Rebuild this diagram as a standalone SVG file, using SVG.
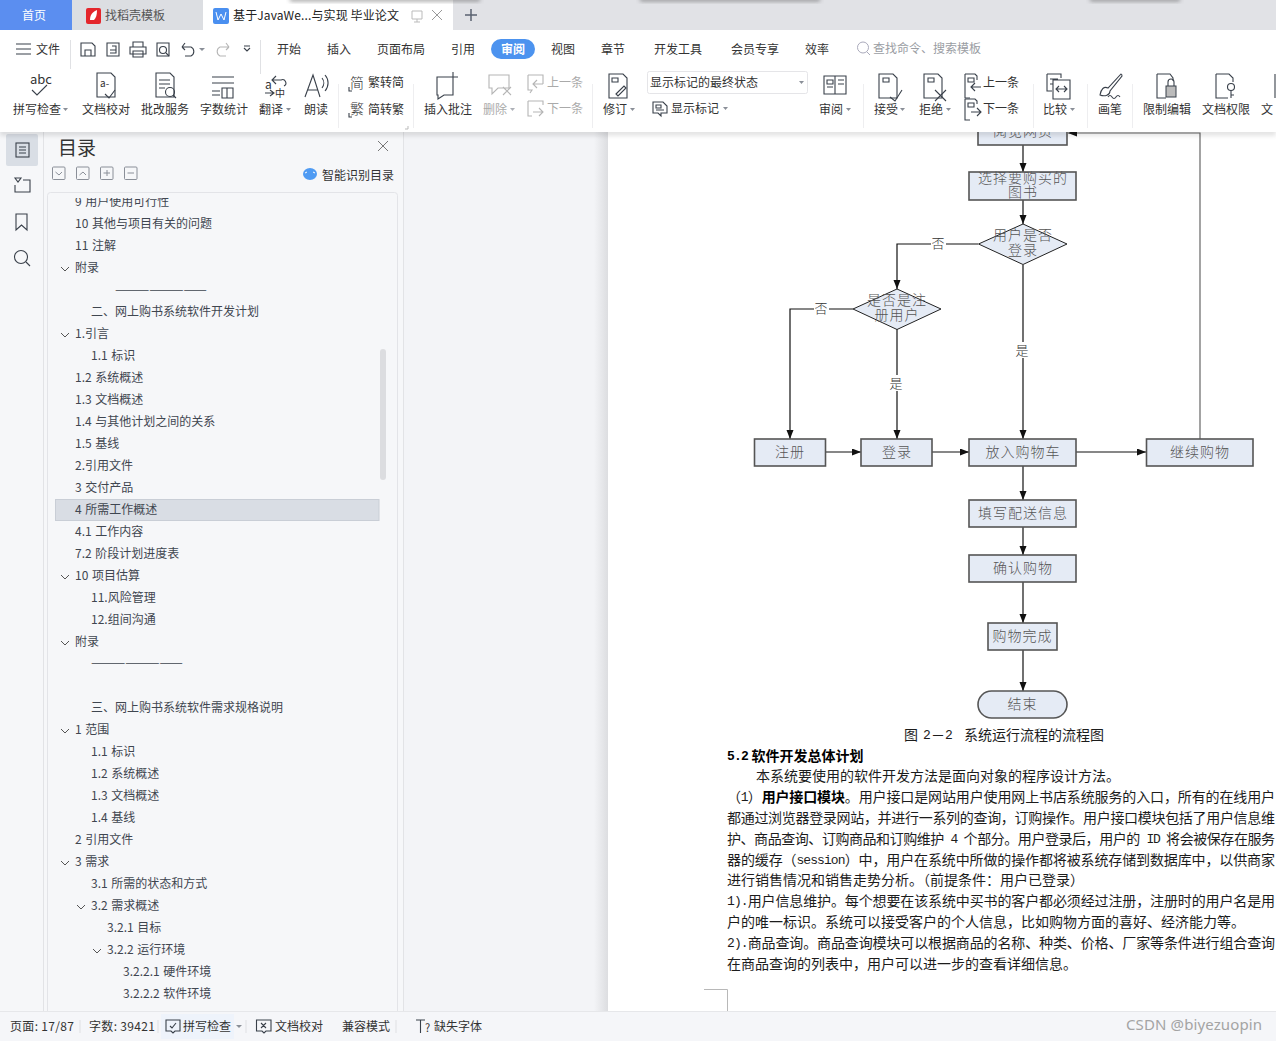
<svg xmlns="http://www.w3.org/2000/svg" width="1276" height="1041" viewBox="0 0 1276 1041">
<style>
text{font-family:"Noto Sans CJK SC","Noto Sans",sans-serif;font-size:12px;fill:#333;dominant-baseline:central;transform:translateY(-1.5px)}
.g{fill:#aaa}
.toc{fill:#3f4650;word-spacing:1px}
.d{font-family:"Liberation Serif","Noto Sans CJK SC",serif;font-size:14px;fill:#1c1c1c;transform:none}
.m{font-family:"Liberation Mono",monospace;font-size:13px;letter-spacing:-.8px}
.b{font-weight:700;fill:#000}
.n{fill:#e5ebf5;stroke:#555;stroke-width:1.600}
.dm{fill:#e5ebf5;stroke:#222;stroke-width:1}
.nt{font-size:14px;fill:#555;text-anchor:middle;font-weight:300;letter-spacing:1px}
.c{fill:none;stroke:#111;stroke-width:1.200}
.l{font-size:13px;fill:#333;text-anchor:middle;font-weight:300;transform:translateY(-1px)}
.i{fill:none;stroke:#39404a;stroke-width:1.100}
.ig{fill:none;stroke:#b5b5b5;stroke-width:1.100}
.a{fill:#8a8f98}
</style>
<defs>
<marker id="ar" markerUnits="userSpaceOnUse" markerWidth="10" markerHeight="8" refX="9" refY="3.500" orient="auto"><path d="M0 0L9 3.500L0 7z" fill="#111"/></marker>
<filter id="bl" x="-20%" y="-100%" width="140%" height="300%"><feGaussianBlur stdDeviation="2"/></filter>
<linearGradient id="sh"><stop offset="0" stop-color="#dcdde0" stop-opacity="0"/><stop offset="1" stop-color="#dcdde0"/></linearGradient>
<path id="doc" d="M-9-12H5L9-8V12H-9z"/>
</defs>

<!-- backgrounds -->
<rect width="1276" height="1041" fill="#f3f4f7"/>
<rect x="594" y="130" width="14" height="882" fill="url(#sh)"/>
<rect x="608" y="130" width="668" height="882" fill="#fff"/>

<!-- flow chart -->
<g id="connectors">
<path class="c" d="M1023 145V172" marker-end="url(#ar)"/>
<path class="c" d="M1023 200V224" marker-end="url(#ar)"/>
<path class="c" d="M978 244H897V289" marker-end="url(#ar)"/>
<path class="c" d="M1023 265V439" marker-end="url(#ar)"/>
<path class="c" d="M853 309H790V439" marker-end="url(#ar)"/>
<path class="c" d="M897 329V439" marker-end="url(#ar)"/>
<path class="c" d="M826 452H861" marker-end="url(#ar)"/>
<path class="c" d="M932 452H969" marker-end="url(#ar)"/>
<path class="c" d="M1076 452H1146" marker-end="url(#ar)"/>
<path class="c" d="M1023 466V500" marker-end="url(#ar)"/>
<path class="c" d="M1023 527V555" marker-end="url(#ar)"/>
<path class="c" d="M1023 582V623" marker-end="url(#ar)"/>
<path class="c" d="M1023 650V691" marker-end="url(#ar)"/>
<path d="M1200 439V133H1068" fill="none" stroke="#666" stroke-width="1.200" marker-end="url(#ar)"/>
<rect x="931" y="236" width="15" height="16" fill="#fff"/><text class="l" x="938" y="243">否</text>
<rect x="814" y="301" width="15" height="16" fill="#fff"/><text class="l" x="821" y="308">否</text>
<rect x="1015" y="342" width="15" height="16" fill="#fff"/><text class="l" x="1022" y="350">是</text>
<rect x="889" y="375" width="15" height="16" fill="#fff"/><text class="l" x="896" y="383">是</text>
</g>
<g id="n-browse"><rect class="n" x="978" y="117" width="89" height="28"/><text class="nt" x="1023" y="131">阅览网页</text></g>
<g id="n-select"><rect class="n" x="969" y="172" width="107" height="28"/><text class="nt" x="1023" y="178"><tspan x="1023">选择要购买的</tspan><tspan x="1023" dy="14">图书</tspan></text></g>
<g id="n-logged"><path class="dm" d="M978.500 244L1023 224L1067 244L1023 264.500z"/><text class="nt" x="1023" y="235"><tspan x="1023">用户是否</tspan><tspan x="1023" dy="15">登录</tspan></text></g>
<g id="n-registered"><path class="dm" d="M853 309L897 289L941 309L897 329.500z"/><text class="nt" x="897" y="300"><tspan x="897">是否是注</tspan><tspan x="897" dy="15">册用户</tspan></text></g>
<g id="n-register"><rect class="n" x="754.500" y="439" width="71" height="27"/><text class="nt" x="790" y="452">注册</text></g>
<g id="n-login"><rect class="n" x="861" y="439" width="71" height="27"/><text class="nt" x="897" y="452">登录</text></g>
<g id="n-cart"><rect class="n" x="969" y="439" width="107" height="27"/><text class="nt" x="1023" y="452">放入购物车</text></g>
<g id="n-continue"><rect class="n" x="1146.500" y="439" width="106.500" height="27"/><text class="nt" x="1200" y="452">继续购物</text></g>
<g id="n-address"><rect class="n" x="969" y="500" width="107" height="27"/><text class="nt" x="1023" y="513">填写配送信息</text></g>
<g id="n-confirm"><rect class="n" x="969" y="555" width="107" height="27"/><text class="nt" x="1023" y="568">确认购物</text></g>
<g id="n-done"><rect class="n" x="988" y="623" width="69" height="27"/><text class="nt" x="1022.500" y="636">购物完成</text></g>
<g id="n-end"><rect class="n" x="978" y="691" width="89" height="27" rx="13.500"/><text class="nt" x="1022.500" y="704">结束</text></g>

<!-- document text -->
<g id="doc-text">
<text class="d" x="904" y="735">图<tspan class="m" x="923">2</tspan><tspan x="931">－</tspan><tspan class="m" x="945">2</tspan><tspan x="964">系统运行流程的流程图</tspan></text>
<text class="d b" x="727" y="756"><tspan class="m">5.2</tspan><tspan x="751.500">软件开发总体计划</tspan></text>
<text class="d" x="756" y="776">本系统要使用的软件开发方法是面向对象的程序设计方法。</text>
<text class="d" x="727" y="797" textLength="548">（<tspan class="m">1</tspan>）<tspan class="b">用户接口模块</tspan>。用户接口是网站用户使用网上书店系统服务的入口，所有的在线用户</text>
<text class="d" x="727" y="818" textLength="548">都通过浏览器登录网站，并进行一系列的查询，订购操作。用户接口模块包括了用户信息维</text>
<text class="d" x="727" y="839" textLength="548">护、商品查询、订购商品和订购维护<tspan class="m"> 4 </tspan>个部分。用户登录后，用户的<tspan class="m"> ID </tspan>将会被保存在服务</text>
<text class="d" x="727" y="860" textLength="548">器的缓存（<tspan class="m">session</tspan>）中，用户在系统中所做的操作都将被系统存储到数据库中，以供商家</text>
<text class="d" x="727" y="880">进行销售情况和销售走势分析。（前提条件：用户已登录）</text>
<text class="d" x="727" y="901" textLength="548"><tspan class="m">1).</tspan>用户信息维护。每个想要在该系统中买书的客户都必须经过注册，注册时的用户名是用</text>
<text class="d" x="727" y="922"><tspan>户的唯一标识。系统可以接受客户的个人信息，比如购物方面的喜好、经济能力等。</tspan></text>
<text class="d" x="727" y="943" textLength="548"><tspan class="m">2).</tspan>商品查询。商品查询模块可以根据商品的名称、种类、价格、厂家等条件进行组合查询</text>
<text class="d" x="727" y="964">在商品查询的列表中，用户可以进一步的查看详细信息。</text>
<path d="M704 989.500H727.500V1012" fill="none" stroke="#b8b8b8"/>
</g>

<!-- left rail and panel -->
<rect x="0" y="130" width="403" height="881" fill="#f6f7f9"/>
<path d="M43.500 130V1011M403.500 130V1011" stroke="#e2e3e6"/>
<rect x="47.500" y="192.500" width="350" height="830" rx="3" fill="#f6f7f9" stroke="#e3e4e8"/>
<g id="rail">
<rect x="6" y="134" width="32" height="32" rx="2" fill="#d9dee5"/>
<rect class="i" x="16" y="143" width="13" height="14"/><path class="i" d="M19 147H26M19 150H26M19 153H26"/>
<path class="i" d="M15 178H21L18 182zM23 180H30V192H15V185"/>
<path class="i" d="M16 214H27V230L21.500 225L16 230z"/>
<circle class="i" cx="21" cy="257" r="6.500"/><path class="i" d="M26 262L30 266"/>
</g>
<g id="toc-head">
<text x="58" y="148" style="font-size:19px">目录</text>
<path d="M378 141L388 151M388 141L378 151" stroke="#777" fill="none"/>
<g fill="none" stroke="#8a8f98"><rect x="52.500" y="167" width="12.500" height="12.500" rx="1"/><rect x="76.500" y="167" width="12.500" height="12.500" rx="1"/><rect x="100.500" y="167" width="12.500" height="12.500" rx="1"/><rect x="124.500" y="167" width="12.500" height="12.500" rx="1"/>
<path d="M55.500 172L59 175L62 172M79.500 175L83 172L86 175M103.500 173H110M107 170V176M127.500 173H134"/></g>
<ellipse cx="310" cy="174" rx="7" ry="6" fill="#4f9bf3"/><path d="M305 173L307 172M313 172L315 173" stroke="#fff" fill="none"/>
<text x="322" y="175.500">智能识别目录</text>
</g>
<g id="toc">
<rect x="55.500" y="499.500" width="323.500" height="21" fill="#d9dde4" stroke="#c9ced6"/>
<rect x="380" y="349" width="6" height="131" rx="3" fill="#dcdde0"/>
<g>
<text class="toc" x="75" y="224">10 其他与项目有关的问题</text>
<text class="toc" x="75" y="246">11 注解</text>
<text class="toc" x="75" y="268">附录</text>
<text class="toc" x="115" y="290" textLength="92" lengthAdjust="spacingAndGlyphs">————————</text>
<text class="toc" x="91" y="312">二、网上购书系统软件开发计划</text>
<text class="toc" x="75" y="334">1.引言</text>
<text class="toc" x="91" y="356">1.1 标识</text>
<text class="toc" x="75" y="378">1.2 系统概述</text>
<text class="toc" x="75" y="400">1.3 文档概述</text>
<text class="toc" x="75" y="422">1.4 与其他计划之间的关系</text>
<text class="toc" x="75" y="444">1.5 基线</text>
<text class="toc" x="75" y="466">2.引用文件</text>
<text class="toc" x="75" y="488">3 交付产品</text>
<text class="toc" x="75" y="510">4 所需工作概述</text>
<text class="toc" x="75" y="532">4.1 工作内容</text>
<text class="toc" x="75" y="554">7.2 阶段计划进度表</text>
<text class="toc" x="75" y="576">10 项目估算</text>
<text class="toc" x="91" y="598">11.风险管理</text>
<text class="toc" x="91" y="620">12.组间沟通</text>
<text class="toc" x="75" y="642">附录</text>
<text class="toc" x="91" y="663" textLength="92" lengthAdjust="spacingAndGlyphs">————————</text>
<text class="toc" x="91" y="708">三、网上购书系统软件需求规格说明</text>
<text class="toc" x="75" y="730">1 范围</text>
<text class="toc" x="91" y="752">1.1 标识</text>
<text class="toc" x="91" y="774">1.2 系统概述</text>
<text class="toc" x="91" y="796">1.3 文档概述</text>
<text class="toc" x="91" y="818">1.4 基线</text>
<text class="toc" x="75" y="840">2 引用文件</text>
<text class="toc" x="75" y="862">3 需求</text>
<text class="toc" x="91" y="884">3.1 所需的状态和方式</text>
<text class="toc" x="91" y="906">3.2 需求概述</text>
<text class="toc" x="107" y="928">3.2.1 目标</text>
<text class="toc" x="107" y="950">3.2.2 运行环境</text>
<text class="toc" x="123" y="972">3.2.2.1 硬件环境</text>
<text class="toc" x="123" y="994">3.2.2.2 软件环境</text>
</g>
<path fill="none" stroke="#555" d="M61 267L65 271L69 267M61 333L65 337L69 333M61 575L65 579L69 575M61 641L65 645L69 641M61 729L65 733L69 729M61 861L65 865L69 861M77 905L81 909L85 905M93 949L97 953L101 949"/>
<svg x="47" y="198" width="350" height="10" viewBox="47 198 350 10" overflow="hidden"><text class="toc" x="75" y="202">9 用户使用可行性</text></svg>
</g>

<!-- status bar -->
<g id="status">
<rect y="1011" width="1276" height="30" fill="#f5f6f9"/>
<path d="M0 1011.500H1276" stroke="#e6e7ea"/>
<rect x="161" y="1014" width="73" height="25" fill="#eef3fb"/>
<text x="10" y="1026.500" textLength="64">页面: 17/87</text>
<text x="89" y="1026.500" textLength="66">字数: 39421</text>
<path class="i" d="M166 1020H180V1031H175L173 1033L171 1031H166zM170 1026L172 1028L176 1023"/>
<text x="183" y="1026.500">拼写检查</text>
<path class="a" d="M236 1025H242L239 1028z"/>
<path class="i" d="M256.500 1020H271V1031H266L264 1033L262 1031H256.500zM261 1023L266 1028M266 1023L261 1028"/>
<text x="275" y="1026.500">文档校对</text>
<text x="342" y="1026.500">兼容模式</text>
<path class="i" d="M416 1020H425M420.500 1020V1033"/>
<text x="425" y="1028" style="font-size:11px">?</text>
<text x="434" y="1026.500">缺失字体</text>
<path d="M80 1020V1033M158 1020V1033M246 1020V1033M396 1020V1033" stroke="#dfe0e3"/>
<text x="1126" y="1025" textLength="136" style="font-family:'Noto Sans',sans-serif;font-size:15px;fill:#a4a4a4">CSDN @biyezuopin</text>
</g>

<!-- ribbon -->
<g id="ribbon">
<rect y="125" width="1276" height="11" fill="#000" opacity=".1" filter="url(#bl)"/>
<rect y="30" width="1276" height="102" fill="#fff"/>
<path class="i" d="M16 44H31M16 49H31M16 54H31"/>
<text x="36" y="49.500">文件</text>
<path d="M70.500 40V69M260.500 40V74" stroke="#e0e1e4"/>
<path class="i" d="M81 43H92L95 46V56H81zM85 56V50H91V56"/>
<path class="i" d="M107 43H119V56H107zM110 50H116V46H112M116 50V53H110"/>
<path class="i" d="M133 42H143V47H133zM130 47H146V54H130zM133 51H143V57H133z"/>
<path class="i" d="M157 43H169V56H157z"/><circle class="i" cx="163" cy="50" r="3.500"/><path class="i" d="M166 53L169 56"/>
<path class="i" d="M182 47H191A5 5 0 0 1 191 56H185M182 47L185 43M182 47L185 50"/>
<path class="a" d="M199 48H205L202 51z"/>
<path class="ig" d="M229 47H220A5 5 0 0 0 220 56H226M229 47L226 43M229 47L226 50"/>
<path class="i" d="M244 48L247 51L250 48M244 46H250"/>
<text x="277" y="50">开始</text><text x="327" y="50">插入</text><text x="377" y="50">页面布局</text><text x="451" y="50">引用</text>
<rect x="491" y="39" width="44" height="20" rx="10" fill="#4c93ef"/>
<text x="501" y="50" style="fill:#fff;font-weight:700">审阅</text>
<text x="551" y="50">视图</text><text x="601" y="50">章节</text><text x="654" y="50">开发工具</text><text x="731" y="50">会员专享</text><text x="805" y="50">效率</text>
<circle cx="863" cy="47.500" r="5.500" fill="none" stroke="#aab"/><path d="M867 52L870 55" stroke="#aab"/>
<text x="873" y="49" style="fill:#9a9da3">查找命令、搜索模板</text>

<path d="M338.500 84V128M413.500 84V128M592.500 84V128M863.500 84V128M1033.500 84V128M1087.500 84V128M1132.500 84V128" stroke="#eeeef0"/>

<text x="30" y="80" style="font-size:13px">abc</text><path class="i" d="M32 90L37 95L47 85"/>
<text x="13" y="110">拼写检查</text><path class="a" d="M63 108H68L65.500 111z"/>
<use href="#doc" class="i" x="106" y="85"/><text x="100" y="84" style="font-size:10px">a-</text><path class="i" d="M105 94L109 98L115 90"/>
<text x="82" y="110">文档校对</text>
<use href="#doc" class="i" x="165" y="85"/><path class="i" d="M159 80H170M159 84H170M159 88H165"/><circle class="i" cx="170" cy="92" r="4.500"/><path class="i" d="M173 95L176 98"/>
<text x="141" y="110">批改服务</text>
<path class="i" d="M212 77H234M212 83H234M212 91H220M212 95H220M222 88H227V98H222zM227 88H233V98H227z"/>
<text x="200" y="110">字数统计</text>
<text x="265" y="85" style="font-size:12px">a</text><path class="i" d="M276 76L272 80L276 84M272 80H281A3 3 0 0 1 284 86M265 93H273M270 90L274 93L270 96"/>
<text x="275" y="94" style="font-size:10px">中</text>
<text x="259" y="110">翻译</text><path class="a" d="M286 108H291L288.500 111z"/>
<path class="i" d="M305 97L313 75L320 97M308 90H318M322 78A8 8 0 0 1 322 88M325 75A12 12 0 0 1 325 91"/>
<text x="304" y="110">朗读</text>
<text x="350" y="83" style="font-size:14px;font-weight:300">简</text><text x="368" y="83">繁转简</text>
<text x="350" y="109" style="font-size:14px;font-weight:300">繁</text><text x="368" y="110">简转繁</text>
<path d="M349 87V91H352M349 113V117H352" class="i"/>
<path d="M405 129H408V126" stroke="#bbb" fill="none"/>

<path class="i" d="M438 79H454V97H445L439 101V97H438zM454 74V84M449 79H459" transform="translate(-1,-2)"/>
<text x="424" y="110">插入批注</text>
<path class="ig" d="M489 75H509V88L498 88L492 94V88H489zM503 87L511 95M511 87L503 95"/>
<text x="483" y="110" class="g">删除</text><path class="a" d="M510 108H515L512.500 111z" opacity=".7"/>
<path class="ig" d="M528 75H543V84M543 84H533M537 80L533 84L537 88M528 75V90H532L530 93"/>
<text x="547" y="83" class="g">上一条</text>
<path class="ig" d="M528 101H543V105M533 112H543M539 108L543 112L539 116M528 101V116H532"/>
<text x="547" y="109" class="g">下一条</text>
<use href="#doc" class="i" x="618" y="86" /><path class="i" d="M612 78H618V82H612zM616 94L624 86L626 88L618 96z"/>
<text x="603" y="110">修订</text><path class="a" d="M630 108H635L632.500 111z"/>

<rect x="647.500" y="71.500" width="160" height="22" rx="2" fill="#fff" stroke="#e5e5e8"/>
<text x="650" y="83">显示标记的最终状态</text><path class="a" d="M799 81H804L801.500 84z"/>
<path class="i" d="M653 102H663L667 106V113H661V116L658 113H653zM656 105H661V108H656zM656 110H664"/>
<text x="671" y="109">显示标记</text><path class="a" d="M723 107H728L725.500 110z"/>
<path class="i" d="M824 76H846V94H824zM835 76V94M827 80H833V84H827zM838 80H844M838 84H844M827 87H833"/>
<text x="819" y="110">审阅</text><path class="a" d="M846 108H851L848.500 111z"/>
<use href="#doc" class="i" x="888" y="86"/><path class="i" d="M883 78H889V82H883zM890 97L895 101L902 90"/>
<text x="874" y="110">接受</text><path class="a" d="M900 108H905L902.500 111z"/>
<use href="#doc" class="i" x="933" y="86"/><path class="i" d="M928 78H934V82H928zM935 90L946 101M946 90L935 101"/>
<text x="919" y="110">拒绝</text><path class="a" d="M946 108H951L948.500 111z"/>
<path class="i" d="M965 74H975L977 76V80M965 74V98H970M968 78H974V82H968zM981 87H971M975 83L971 87L975 91"/>
<text x="983" y="83">上一条</text>
<path class="i" d="M965 101H975L977 103V106M965 101V122H970M968 105H974V109H968zM971 114H981M977 110L981 114L977 118" transform="translate(0,-2)"/>
<text x="983" y="109">下一条</text>
<path class="i" d="M1047 74H1061V78M1047 74V91H1052M1053 80H1070V99H1053zM1050 79H1058M1050 84H1053M1056 89H1067M1059 86L1056 89L1059 92M1064 86L1067 89L1064 92"/>
<text x="1043" y="110">比较</text><path class="a" d="M1070 108H1075L1072.500 111z"/>
<path class="i" d="M1100 95C1101 89 1104 86 1108 88L1121 74C1122 74 1122 76 1122 76L1110 91C1110 95 1105 97 1100 95zM1108 97Q1110 94 1112 97T1116 97T1120 97"/>
<text x="1098" y="110">画笔</text>
<path class="i" d="M1157 74H1170L1173 78V81M1157 74V98H1166"/><rect x="1166" y="86" width="10" height="11" fill="#bbb" stroke="#39404a"/><path class="i" d="M1168 86V82A3 3 0 0 1 1174 82V86"/>
<text x="1143" y="110">限制编辑</text>
<path class="i" d="M1216 74H1229L1233 78V82M1216 74V98H1228"/><circle class="i" cx="1231" cy="87" r="3.500"/><path class="i" d="M1231 90.500V98M1231 95H1234"/>
<text x="1202" y="110">文档权限</text>
<path class="i" d="M1275 74V98"/>
<text x="1261" y="110">文</text>
</g>

<!-- tab bar -->
<g id="tabs">
<rect width="1276" height="30" fill="#e1e2e6"/>
<rect y="0" width="72" height="30" fill="#5b8ef0"/>
<text x="22" y="16" style="fill:#fff">首页</text>
<rect x="72" width="131" height="30" fill="#dcdee2"/>
<rect x="86" y="8" width="15" height="16" rx="2" fill="#e4262c"/><path d="M90 20C90 14 93 12 97 10C97 15 96 18 94 20z" fill="#fff"/>
<text x="105" y="16" style="fill:#555">找稻壳模板</text>
<rect x="203" width="250" height="30" fill="#fff"/>
<rect x="453" width="823" height="30" fill="#e1e2e6"/>
<rect x="213" y="8" width="16" height="16" rx="2" fill="#4a8ff0"/><path d="M216 12L218 20L221 14L224 20L226 12" fill="none" stroke="#fff"/>
<text x="233" y="16" textLength="166" style="fill:#222">基于JavaWe...与实现 毕业论文</text>
<path d="M412 11H422V19H412zM417 19V22M414 22H420" fill="none" stroke="#bbb"/>
<path d="M432 10L442 20M442 10L432 20" stroke="#999" fill="none"/>
<path d="M471 9V21M465 15H477" stroke="#5a6270" stroke-width="1.500" fill="none"/>
<g filter="url(#bl)" fill="#555" opacity=".7">
<rect x="290" y="-2" width="190" height="3"/><rect x="640" y="-2" width="180" height="3"/><rect x="1090" y="-2" width="90" height="3"/>
</g>
</g>
</svg>
